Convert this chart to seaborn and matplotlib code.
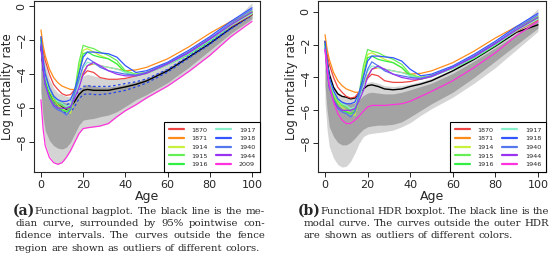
import numpy as np
import pandas as pd
import seaborn as sns
import matplotlib.pyplot as plt
from matplotlib.lines import Line2D

# common age grid
ages = [0, 1, 2, 4, 6, 8, 10, 12, 14, 16, 18, 20, 22, 25, 28, 32, 36, 40, 45, 50, 60, 70, 80, 90, 100]

# outlying years (same curves in both panels)
y1870 = [-1.8, -2.6, -3.2, -4.0, -4.6, -4.9, -5.15, -5.25, -5.2, -4.9, -4.4, -4.05, -3.8, -3.9, -4.2, -4.3, -4.3, -4.25, -4.1, -3.9, -3.4, -2.7, -1.9, -1.2, -0.5]
y1871 = [-1.4, -2.3, -2.9, -3.7, -4.2, -4.5, -4.7, -4.8, -4.9, -4.9, -4.4, -3.9, -3.5, -3.4, -3.5, -3.6, -3.7, -3.8, -3.75, -3.6, -3.1, -2.4, -1.6, -0.9, -0.4]
y1914 = [-2.0, -3.3, -4.2, -5.0, -5.5, -5.8, -6.0, -6.2, -6.3, -5.2, -3.6, -2.6, -2.5, -2.7, -2.9, -3.1, -3.4, -3.9, -4.0, -3.9, -3.4, -2.8, -2.0, -1.1, -0.3]
y1915 = [-1.9, -3.2, -4.1, -4.9, -5.4, -5.7, -5.8, -6.0, -6.0, -5.0, -3.3, -2.3, -2.4, -2.5, -2.7, -2.9, -3.2, -3.8, -4.0, -3.9, -3.4, -2.8, -2.0, -1.1, -0.3]
y1916 = [-2.0, -3.4, -4.4, -5.2, -5.7, -6.0, -6.1, -6.2, -6.1, -5.3, -3.9, -2.8, -2.7, -2.9, -3.0, -3.1, -3.4, -3.9, -4.1, -3.95, -3.45, -2.85, -2.05, -1.15, -0.4]
y1917 = [-2.1, -3.3, -4.1, -4.9, -5.3, -5.6, -5.7, -5.9, -5.8, -5.3, -4.5, -3.6, -3.3, -3.4, -3.5, -3.6, -3.7, -3.9, -4.05, -3.95, -3.45, -2.8, -2.0, -1.15, -0.45]
y1918 = [-1.8, -3.1, -4.0, -4.8, -5.3, -5.5, -5.6, -5.6, -5.5, -4.9, -4.0, -3.0, -2.7, -2.7, -2.75, -2.8, -3.0, -3.5, -3.9, -3.8, -3.3, -2.6, -1.8, -0.9, -0.1]
y1940 = [-2.2, -3.6, -4.6, -5.4, -5.9, -6.1, -6.2, -6.4, -6.1, -5.1, -4.3, -3.5, -3.05, -3.3, -3.6, -3.8, -3.9, -4.0, -4.05, -3.9, -3.35, -2.7, -1.9, -1.0, -0.2]
y1944 = [-2.3, -3.7, -4.6, -5.4, -5.8, -6.0, -6.0, -6.0, -5.9, -5.4, -4.8, -4.0, -3.5, -3.3, -3.5, -3.8, -4.0, -4.1, -4.1, -3.95, -3.4, -2.75, -1.95, -1.1, -0.35]
y2009 = [-5.5, -7.2, -8.2, -8.9, -9.2, -9.3, -9.2, -8.9, -8.5, -8.0, -7.5, -7.2, -7.15, -7.1, -7.05, -6.9, -6.5, -6.15, -5.8, -5.4, -4.7, -3.85, -2.9, -1.8, -0.9]
y1946 = [-2.3, -3.5, -4.4, -5.5, -6.2, -6.6, -6.8, -6.8, -6.6, -6.35, -6.05, -5.8, -5.7, -5.7, -5.7, -5.65, -5.6, -5.45, -5.15, -4.85, -4.2, -3.4, -2.5, -1.45, -0.6]

# panel (a): bagplot
med_a = [-2.4, -3.6, -4.4, -5.1, -5.5, -5.8, -5.95, -6.05, -5.95, -5.6, -5.2, -4.95, -4.9, -4.95, -4.95, -4.95, -4.85, -4.75, -4.6, -4.4, -3.8, -3.0, -2.2, -1.3, -0.5]
ci_hi_a = [-2.3, -3.45, -4.25, -4.95, -5.35, -5.6, -5.75, -5.8, -5.7, -5.35, -4.95, -4.72, -4.68, -4.72, -4.72, -4.72, -4.65, -4.55, -4.45, -4.28, -3.72, -2.94, -2.15, -1.26, -0.45]
ci_lo_a = [-2.5, -3.75, -4.55, -5.25, -5.65, -6.0, -6.15, -6.3, -6.25, -5.9, -5.45, -5.2, -5.15, -5.2, -5.2, -5.15, -5.05, -4.95, -4.75, -4.52, -3.88, -3.06, -2.25, -1.34, -0.55]
dark_hi_a = [-2.0, -3.0, -3.8, -4.7, -5.2, -5.5, -5.6, -5.7, -5.7, -5.4, -5.0, -4.7, -4.6, -4.7, -4.75, -4.75, -4.7, -4.6, -4.45, -4.25, -3.65, -2.9, -2.1, -1.2, -0.25]
dark_lo_a = [-5.0, -6.5, -7.3, -7.9, -8.2, -8.35, -8.4, -8.3, -8.0, -7.5, -7.0, -6.7, -6.65, -6.6, -6.5, -6.4, -6.2, -5.9, -5.5, -5.2, -4.5, -3.6, -2.6, -1.6, -0.75]
light_hi_a = [-1.5, -2.6, -3.4, -4.3, -4.8, -5.1, -5.2, -5.3, -5.3, -4.9, -4.4, -4.1, -4.0, -4.1, -4.2, -4.3, -4.3, -4.25, -4.1, -3.9, -3.4, -2.7, -1.9, -1.0, 0.2]
light_lo_a = [-5.4, -7.1, -8.1, -8.8, -9.15, -9.3, -9.2, -8.9, -8.5, -8.0, -7.5, -7.2, -7.15, -7.1, -7.05, -6.9, -6.5, -6.15, -5.8, -5.4, -4.7, -3.85, -2.9, -1.8, -0.8]

# panel (b): HDR boxplot
mode_b = [-1.8, -3.0, -3.8, -4.6, -5.0, -5.15, -5.2, -5.3, -5.25, -5.0, -4.7, -4.5, -4.45, -4.55, -4.7, -4.75, -4.7, -4.55, -4.4, -4.2, -3.6, -2.9, -2.1, -1.25, -0.8]
dark_hi_b = [-2.0, -3.2, -4.0, -4.9, -5.3, -5.5, -5.55, -5.6, -5.55, -5.35, -5.1, -4.95, -4.9, -4.95, -5.0, -5.0, -4.9, -4.75, -4.55, -4.35, -3.75, -3.0, -2.2, -1.35, -0.4]
dark_lo_b = [-4.5, -6.0, -7.0, -7.6, -7.95, -8.1, -8.1, -7.95, -7.7, -7.4, -7.15, -7.0, -6.95, -6.9, -6.9, -6.85, -6.7, -6.4, -6.0, -5.6, -4.9, -4.0, -3.0, -2.0, -1.0]
light_hi_b = [-1.6, -2.8, -3.6, -4.5, -4.9, -5.1, -5.2, -5.25, -5.2, -4.9, -4.5, -4.3, -4.25, -4.35, -4.5, -4.55, -4.5, -4.4, -4.25, -4.05, -3.5, -2.8, -2.0, -1.1, 0.2]
light_lo_b = [-5.5, -7.2, -8.2, -8.9, -9.3, -9.45, -9.4, -9.1, -8.6, -8.0, -7.6, -7.45, -7.4, -7.35, -7.3, -7.2, -7.0, -6.75, -6.3, -5.9, -5.2, -4.35, -3.4, -2.3, -1.2]

years_a = ['1870', '1871', '1914', '1915', '1916', '1917', '1918', '1940', '1944', '2009']
years_b = ['1870', '1871', '1914', '1915', '1916', '1917', '1918', '1940', '1944', '1946']
curves_a = [y1870, y1871, y1914, y1915, y1916, y1917, y1918, y1940, y1944, y2009]
curves_b = [y1870, y1871, y1914, y1915, y1916, y1917, y1918, y1940, y1944, y1946]
colors = ['#ee4444', '#ff8c1a', '#c8f03c', '#66ee55', '#33ee44', '#88f0c8',
          '#3355ff', '#5577ee', '#9933ee', '#ff33dd']

sns.set_style('ticks')
plt.rcParams['font.family'] = ['DejaVu Sans']

W, H = 553, 259
fig = plt.figure(figsize=(W / 100, H / 100), dpi=100)
ax_a = fig.add_axes([34 / W, 1 - 172 / H, 226 / W, 171 / H])
ax_b = fig.add_axes([318 / W, 1 - 172 / H, 228 / W, 171 / H])


def draw_panel(ax, years, curves, center, bands, ci=None, ylim=(-9.75, 0.3)):
    light_hi, light_lo, dark_hi, dark_lo = bands
    ax.fill_between(ages, light_lo, light_hi, color='#d4d4d4', lw=0)
    ax.fill_between(ages, dark_lo, dark_hi, color='#a3a3a3', lw=0)
    sns.lineplot(x=ages, y=center, color='black', lw=1.0, ax=ax)
    if ci is not None:
        for c in ci:
            sns.lineplot(x=ages, y=c, color='#2244ee', lw=0.9, ls=(0, (2, 2)), ax=ax)
    df = pd.DataFrame({'age': ages * len(years),
                       'year': [y for y in years for _ in ages],
                       'rate': [v for c in curves for v in c]})
    sns.lineplot(data=df, x='age', y='rate', hue='year', palette=colors,
                 lw=0.9, legend=False, sort=False, estimator=None, ax=ax)
    handles = [Line2D([], [], color=c, lw=1.6) for c in colors]
    leg = ax.legend(handles, years, ncol=2, loc='lower right', borderaxespad=0,
                    fontsize=4.6, handlelength=2.4, columnspacing=1.2,
                    labelspacing=0.5, fancybox=False, edgecolor='black',
                    framealpha=1, borderpad=0.75, handletextpad=1.2)
    leg.get_frame().set_linewidth(0.8)
    ax.set_xlim(-3.3, 103.8)
    ax.set_ylim(*ylim)
    ax.set_xticks([0, 20, 40, 60, 80, 100])
    ax.set_yticks([-8, -6, -4, -2, 0])
    ax.tick_params(labelsize=8, length=3.5, width=0.7, pad=2)
    for t in ax.get_yticklabels():
        t.set_rotation(90)
        t.set_va('center')
    for s in ax.spines.values():
        s.set_linewidth(0.8)
        s.set_visible(True)
    ax.set_xlabel('Age', fontsize=9, labelpad=0)
    ax.set_ylabel('Log mortality rate', fontsize=8.5, labelpad=2)


draw_panel(ax_a, years_a, curves_a, med_a,
           (light_hi_a, light_lo_a, dark_hi_a, dark_lo_a), ci=(ci_hi_a, ci_lo_a))
draw_panel(ax_b, years_b, curves_b, mode_b,
           (light_hi_b, light_lo_b, dark_hi_b, dark_lo_b), ylim=(-9.75, 0.65))

# captions (justified like the LaTeX subcaptions)
serif = 'DejaVu Serif'
cap_a = ['Functional bagplot. The black line is the me-',
         'dian curve, surrounded by 95% pointwise con-',
         'fidence intervals.  The curves outside the fence',
         'region are shown as outliers of different colors.']
cap_b = ['Functional HDR boxplot. The black line is the',
         'modal curve. The curves outside the outer HDR',
         'are shown as outliers of different colors.']
line_y = [211, 223.5, 236, 248.5]
renderer = fig.canvas.get_renderer()


def put_line(s, x0, x1, y, justify=True, size=7.3):
    words = s.split()
    texts = [fig.text(0, 1 - y / H, w, fontsize=size, family=serif, va='center')
             for w in words]
    widths = [t.get_window_extent(renderer).width for t in texts]
    if justify:
        gap = (x1 - x0 - sum(widths)) / (len(words) - 1)
    else:
        gap = size * 100 / 72 * 0.33
    x = x0
    for t, w in zip(texts, widths):
        t.set_x(x / W)
        x += w + gap


fig.text(13 / W, 1 - line_y[0] / H, '(a)', fontsize=10, fontweight='bold',
         family=serif, va='center')
fig.text(298 / W, 1 - line_y[0] / H, '(b)', fontsize=10, fontweight='bold',
         family=serif, va='center')
put_line(cap_a[0], 34, 265, line_y[0])
put_line(cap_a[1], 15, 265, line_y[1])
put_line(cap_a[2], 15, 265, line_y[2])
put_line(cap_a[3], 15, 260, line_y[3])
put_line(cap_b[0], 320, 549, line_y[0])
put_line(cap_b[1], 304, 549, line_y[1])
put_line(cap_b[2], 304, 549, line_y[2], justify=False)

fig.savefig('out.png', dpi=100)
